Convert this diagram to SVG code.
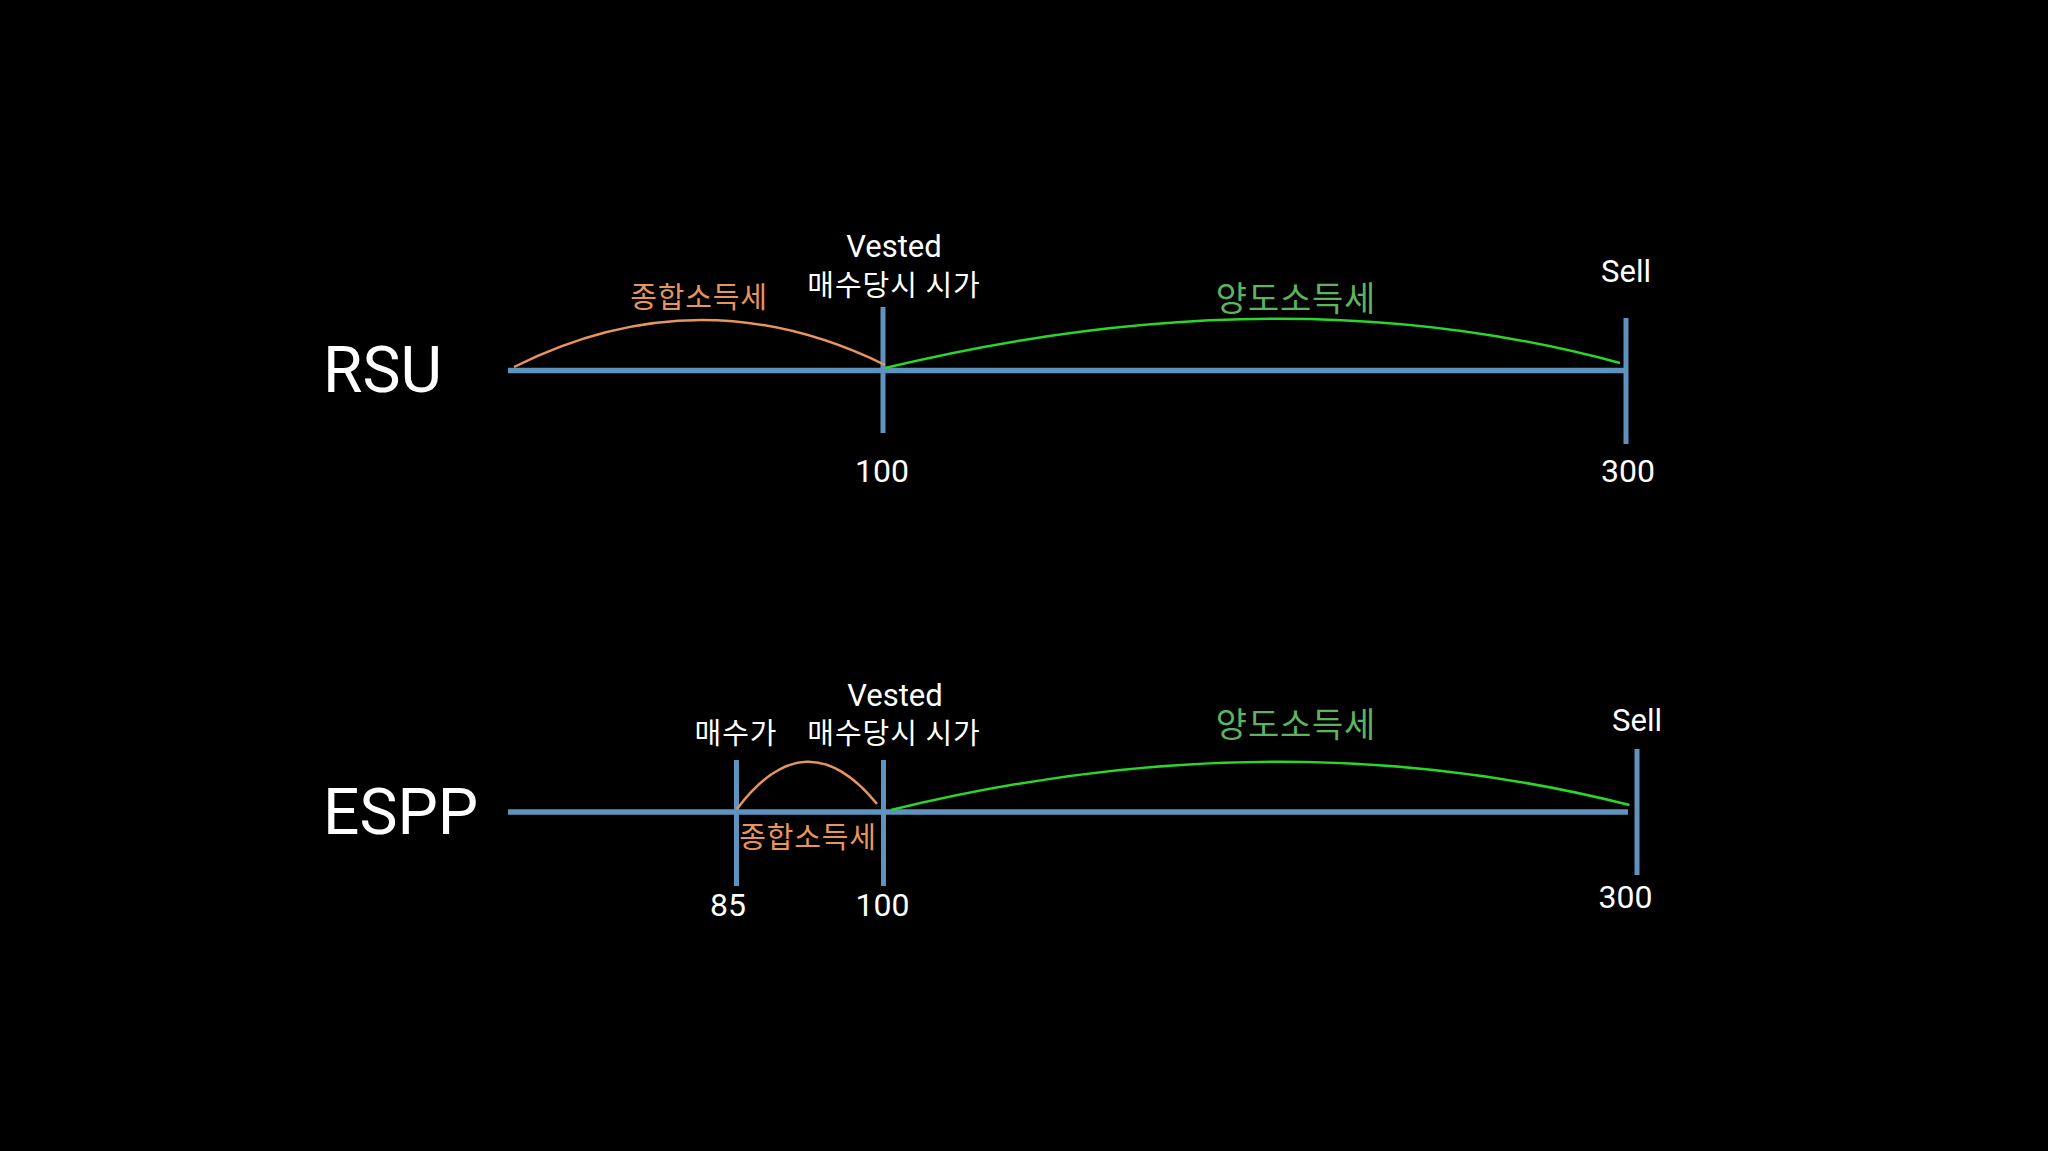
<svg xmlns="http://www.w3.org/2000/svg" width="2048" height="1151" viewBox="0 0 2048 1151">
  <style>
    .axis { stroke: #5E93C0; stroke-width: 5.5; fill: none; }
    .tick { stroke: #5E93C0; stroke-width: 5; fill: none; }
    .title { font-family: Roboto, "Liberation Sans", sans-serif; font-size: 64px; fill: #FFFFFF; }
    .lbl { font-family: Roboto, "Liberation Sans", sans-serif; font-size: 31px; fill: #FFFFFF; text-anchor: middle; }
    .num { font-family: Roboto, "Liberation Sans", sans-serif; font-size: 32px; fill: #FFFFFF; text-anchor: middle; }
    .kr { font-family: "Noto Sans CJK KR", "Noto Sans", sans-serif; font-size: 29px; fill: #FFFFFF; text-anchor: middle; letter-spacing: 1px; }
    .kr-or { font-family: "Noto Sans CJK KR", "Noto Sans", sans-serif; font-size: 29px; fill: #E8945E; text-anchor: middle; letter-spacing: 0.8px; }
    .kr-gr { font-family: "Noto Sans CJK KR", "Noto Sans", sans-serif; font-size: 34px; fill: #5EB35E; text-anchor: middle; letter-spacing: 0.8px; }
    .arc-or { stroke: #E8945E; stroke-width: 2.5; fill: none; }
    .arc-gr { stroke: #2BD62B; stroke-width: 2.5; fill: none; }
  </style>
  <rect x="0" y="0" width="2048" height="1151" fill="#000000"/>

  <!-- RSU row -->
  <g id="rsu-title"><text class="title" x="323" y="392">RSU</text></g>
  <g id="rsu-axis"><line class="axis" x1="508" y1="370.5" x2="1626" y2="370.5"/></g>
  <g id="rsu-vested">
    <line class="tick" x1="883" y1="307" x2="883" y2="433"/>
    <text class="lbl" x="894" y="257">Vested</text>
    <text class="kr" x="894" y="296">매수당시 시가</text>
    <text class="num" x="882" y="482">100</text>
  </g>
  <g id="rsu-sell">
    <line class="tick" x1="1626" y1="318" x2="1626" y2="444"/>
    <text class="lbl" x="1626" y="282">Sell</text>
    <text class="num" x="1628" y="482">300</text>
  </g>
  <g id="rsu-income-label"><text class="kr-or" x="699" y="308">종합소득세</text></g>
  <g id="rsu-gain-label"><text class="kr-gr" x="1296" y="311">양도소득세</text></g>

  <!-- ESPP row -->
  <g id="espp-title"><text class="title" x="323" y="834">ESPP</text></g>
  <g id="espp-axis"><line class="axis" x1="508" y1="812" x2="1628" y2="812"/></g>
  <g id="espp-buy">
    <line class="tick" x1="736.5" y1="760" x2="736.5" y2="886"/>
    <text class="kr" x="736" y="744">매수가</text>
    <text class="num" x="728" y="916">85</text>
  </g>
  <g id="espp-vested">
    <line class="tick" x1="883.5" y1="760" x2="883.5" y2="886"/>
    <text class="lbl" x="895" y="706">Vested</text>
    <text class="kr" x="894" y="744">매수당시 시가</text>
    <text class="num" x="882.5" y="916">100</text>
  </g>
  <g id="espp-sell">
    <line class="tick" x1="1637" y1="749" x2="1637" y2="875"/>
    <text class="lbl" x="1637" y="731">Sell</text>
    <text class="num" x="1625.5" y="908">300</text>
  </g>
  <g id="espp-income-label"><text class="kr-or" x="808" y="848">종합소득세</text></g>
  <g id="espp-gain-label"><text class="kr-gr" x="1296" y="737">양도소득세</text></g>

  <!-- connectors -->
  <g id="connectors">
    <path class="arc-or" d="M 514 367 Q 700 274 885 365"/>
    <path class="arc-gr" d="M 885 368 Q 1284 272 1620 363"/>
    <path class="arc-or" d="M 737 809 Q 806 717 877 804"/>
    <path class="arc-gr" d="M 891 810 Q 1276 716 1629.5 805"/>
  </g>
</svg>
